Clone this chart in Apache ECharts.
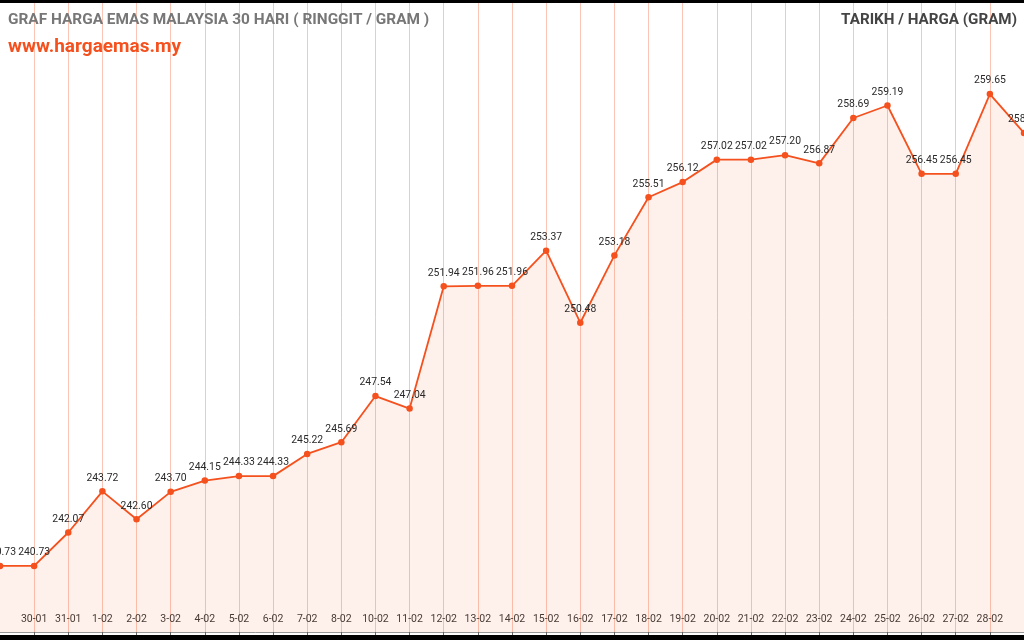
<!DOCTYPE html>
<html>
<head>
<meta charset="utf-8">
<script src="https://cdn.jsdelivr.net/npm/echarts@6/dist/echarts.min.js"></script>
<style>
  html, body { margin: 0; padding: 0; background: #000; }
  #chart { position: absolute; left: 0; top: 3px; width: 1024px; height: 632px; background: #fff; }
</style>
</head>
<body>
<div id="chart"></div>
<script>
const categories = ['29-01','30-01','31-01','1-02','2-02','3-02','4-02','5-02','6-02','7-02','8-02','10-02','11-02','12-02','13-02','14-02','15-02','16-02','17-02','18-02','19-02','20-02','21-02','22-02','23-02','24-02','25-02','26-02','27-02','28-02','1-03'];
const prices = [240.73,240.73,242.07,243.72,242.60,243.70,244.15,244.33,244.33,245.22,245.69,247.54,247.04,251.94,251.96,251.96,253.37,250.48,253.18,255.51,256.12,257.02,257.02,257.20,256.87,258.69,259.19,256.45,256.45,259.65,258.09];
const titleText = 'GRAF HARGA EMAS MALAYSIA 30 HARI ( RINGGIT / GRAM )';
const siteText = 'www.hargaemas.my';
const legendText = 'TARIKH / HARGA (GRAM)';

const chart = echarts.init(document.getElementById('chart'));
chart.setOption({
  animation: false,
  textStyle: { fontFamily: 'Roboto' },
  title: [
    { text: titleText, left: 8, top: 10, padding: 0,
      textStyle: { fontFamily: 'Roboto', fontSize: 15.4, fontWeight: 'bold', color: '#777777' } },
    { text: siteText, left: 8, top: 35, padding: 0,
      textStyle: { fontFamily: 'Roboto', fontSize: 19, fontWeight: 'bold', color: '#f4511e' } },
    { text: legendText, right: 7, top: 10, padding: 0,
      textStyle: { fontFamily: 'Roboto', fontSize: 15.2, fontWeight: 'bold', color: '#444444' } }
  ],
  grid: { left: 0, right: 0, top: 0, bottom: 3, containLabel: false },
  xAxis: {
    type: 'category',
    data: categories,
    boundaryGap: false,
    axisLine: { show: true, lineStyle: { color: '#999', width: 1 } },
    axisTick: { show: true, inside: false, length: 3, lineStyle: { color: '#666' } },
    axisLabel: {
      inside: true, margin: 7, fontSize: 10.5, color: '#333',
      interval: function (i) { return i > 0 && i < categories.length - 1; }
    },
    splitLine: { show: true, lineStyle: { color: 'rgba(245,110,70,0.4)', width: 1 } }
  },
  yAxis: {
    type: 'value', min: 238.08, max: 263.3,
    show: false, splitLine: { show: false }
  },
  series: [{
    type: 'line',
    data: prices,
    symbol: 'circle',
    symbolSize: 6.5,
    showAllSymbol: true,
    lineStyle: { color: '#f4511e', width: 1.8 },
    itemStyle: { color: '#f4511e' },
    areaStyle: { color: 'rgba(248,110,60,0.15)' },
    label: {
      show: true, position: 'top', distance: 5,
      fontSize: 10.4, color: '#2a2a2a',
      formatter: function (p) { return p.value.toFixed(2); }
    }
  }]
});
</script>
</body>
</html>
